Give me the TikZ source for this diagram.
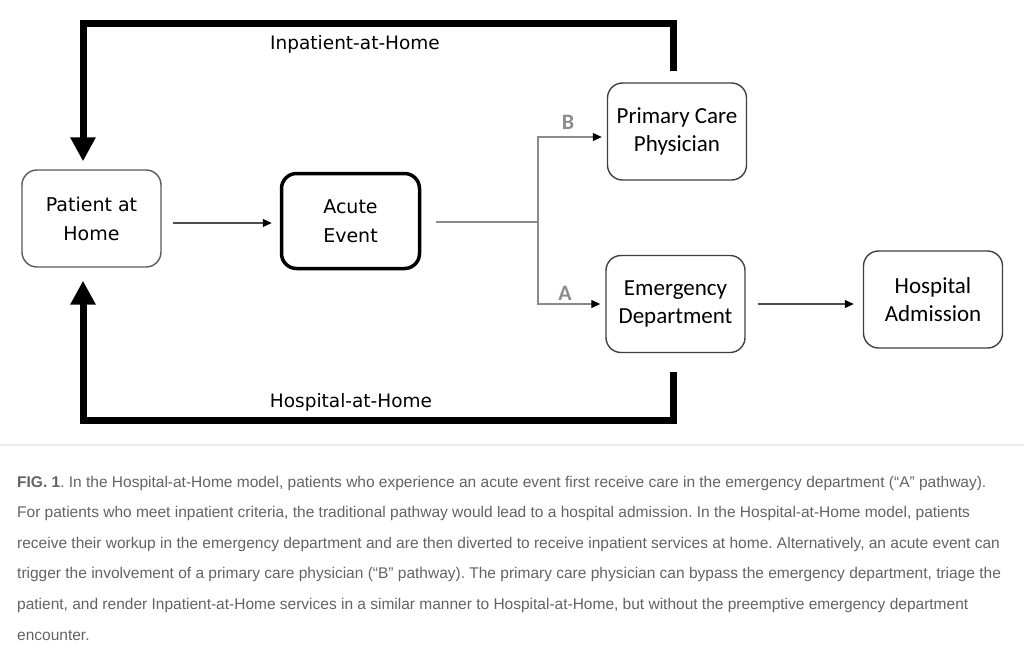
\documentclass[tikz,border=0pt]{standalone}
\usepackage{fontspec}
\setmainfont{Liberation Sans}
\newfontfamily\boxfont{DejaVu Sans}
\newfontfamily\calfont{Carlito}
\usetikzlibrary{arrows.meta}
\definecolor{capgray}{HTML}{636363}
\definecolor{linegray}{HTML}{8A8A8A}
\definecolor{labgray}{HTML}{8C8C8C}
\frenchspacing

\begin{document}
\begin{tikzpicture}[x=1pt,y=-1pt,
  box/.style={draw=black!75,line width=1.4pt,rounded corners=15pt,minimum width=139pt,minimum height=97pt,align=center,inner sep=0pt},
  thin/.style={draw=black!70,line width=1.1pt,-{Triangle[length=9pt,width=8pt,color=black]}},
  loop/.style={line width=7pt,line join=miter,-{Triangle[length=24pt,width=24pt]}},
  caption/.style={anchor=base west,inner sep=0pt,text=capgray,font=\fontsize{15.5}{18}\selectfont}]
\useasboundingbox (0,0) rectangle (1024,670);
% boxes
\node[box,draw=black!65,font=\boxfont\fontsize{19}{29}\selectfont] (patient) at (91.5,218.5) {Patient at\\Home};
\node[box,draw=black,line width=3.5pt,minimum width=138pt,minimum height=95pt,font=\boxfont\fontsize{19}{29}\selectfont] (acute) at (350.5,221) {Acute\\Event};
\node[box,font=\calfont\fontsize{23}{28}\selectfont] (pcp) at (677,131.5) {Primary Care\\Physician};
\node[box,font=\calfont\fontsize{23}{28}\selectfont] (ed) at (675.5,304) {Emergency\\Department};
\node[box,font=\calfont\fontsize{23}{28}\selectfont] (hosp) at (933,299.5) {Hospital\\Admission};
% branch points
\coordinate (split) at (538,222);
\coordinate (topL) at (83,23);
\coordinate (botL) at (83,420);
% thin connectors
\draw[thin,shorten <=11pt,shorten >=8pt] ([yshift=-4.5pt]patient.east) -- ([yshift=-4.5pt]patient.east -| acute.west);
\draw[draw=linegray,line width=1.1pt,shorten <=15pt] (acute.east |- split) -- (split);
\draw[thin,draw=linegray,shorten >=5pt] (split) |- ([yshift=-5.5pt]pcp.west);
\draw[thin,draw=linegray,shorten >=5pt] (split) |- (ed.west);
\draw[thin,shorten <=12pt,shorten >=9pt] (ed.east) -- (ed.east -| hosp.west);
\node[text=labgray,font=\calfont\bfseries\fontsize{22}{24}\selectfont] (labB) at (568,122) {B};
\node[text=labgray,font=\calfont\bfseries\fontsize{22}{24}\selectfont] (labA) at (565,293) {A};
% thick loops back home
\draw[loop] ([xshift=-4pt,yshift=11pt]pcp.north) |- (topL) -- (topL |- patient.north) [shorten >=8pt];
\draw[loop] ([xshift=-2.5pt,yshift=-19pt]ed.south) |- (botL) -- (botL |- patient.south) [shorten >=13pt];
\node[font=\boxfont\fontsize{18.5}{22}\selectfont] (inhome) at (355,44) {Inpatient-at-Home};
\node[font=\boxfont\fontsize{18.5}{22}\selectfont] (hosphome) at (351,402) {Hospital-at-Home};
% caption
\draw[black!8,line width=1.5pt] (0,445) -- (1024,445);
\node[caption] (cap1) at (17,487) {\textbf{FIG. 1}. In the Hospital-at-Home model, patients who experience an acute event first receive care in the emergency department (“A” pathway).};
\node[caption] (cap2) at (17,517.5) {For patients who meet inpatient criteria, the traditional pathway would lead to a hospital admission. In the Hospital-at-Home model, patients};
\node[caption] (cap3) at (17,548) {receive their workup in the emergency department and are then diverted to receive inpatient services at home. Alternatively, an acute event can};
\node[caption] (cap4) at (17,578.5) {trigger the involvement of a primary care physician (“B” pathway). The primary care physician can bypass the emergency department, triage the};
\node[caption] (cap5) at (17,609) {patient, and render Inpatient-at-Home services in a similar manner to Hospital-at-Home, but without the preemptive emergency department};
\node[caption] (cap6) at (17,640) {encounter.};
\end{tikzpicture}
\end{document}
